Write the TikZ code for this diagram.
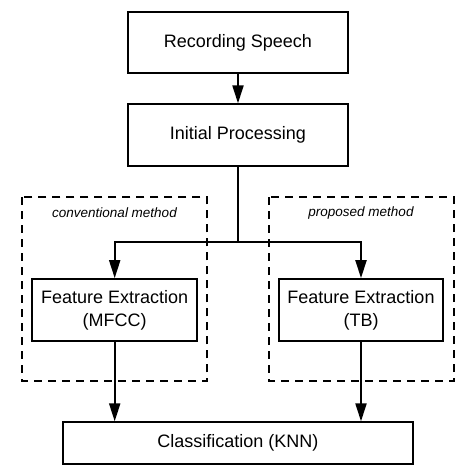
\documentclass[tikz,border=0pt]{standalone}
\usepackage{fontspec}
\setmainfont{Liberation Sans}
\usetikzlibrary{arrows.meta}
\begin{document}
\begin{tikzpicture}[x=1pt,y=-1pt,
  box/.style={draw=black, line width=2pt, fill=white, inner sep=0pt, align=center,
    font=\fontsize{18}{23}\selectfont},
  grp/.style={draw=black, line width=2pt, dash pattern=on 8pt off 6pt},
  lbl/.style={font=\fontsize{13.5}{16}\selectfont\itshape, inner sep=0pt},
  conn/.style={line width=2pt, -{Triangle[width=11pt,length=18pt]}},
  line/.style={line width=2pt}]
\useasboundingbox[fill=white] (0,0) rectangle (474,474);
% dashed groups
\draw[grp] (21.7,197.3) rectangle (207.3,381);
\draw[grp] (268.7,197.3) rectangle (454,381);
\node[lbl] (l1) at (114.5,213) {conventional method};
\node[lbl] (l2) at (361,213) {proposed method};
% boxes
\node[box, minimum width=220.6pt, minimum height=61pt] (rec) at (238,42.8) {Recording Speech};
\node[box, minimum width=220.6pt, minimum height=61.7pt] (ip) at (238,135.2) {Initial Processing};
\node[box, minimum width=164.7pt, minimum height=61.7pt] (fe1) at (114.7,310) {Feature Extraction\\(MFCC)};
\node[box, minimum width=164.6pt, minimum height=61.7pt] (fe2) at (361,310) {Feature Extraction\\(TB)};
\node[box, minimum width=350.6pt, minimum height=41.7pt] (cls) at (238,443.2) {Classification (KNN)};
\coordinate (split) at (238,242);
% connectors
\draw[conn] (rec) -- (ip);
\draw[line] (ip.south) -- (split);
\draw[conn] (split) -| (fe1.north);
\draw[conn] (split) -| (fe2.north);
\draw[conn] (fe1.south) -- (fe1.south |- cls.north);
\draw[conn] (fe2.south) -- (fe2.south |- cls.north);
\end{tikzpicture}
\end{document}
